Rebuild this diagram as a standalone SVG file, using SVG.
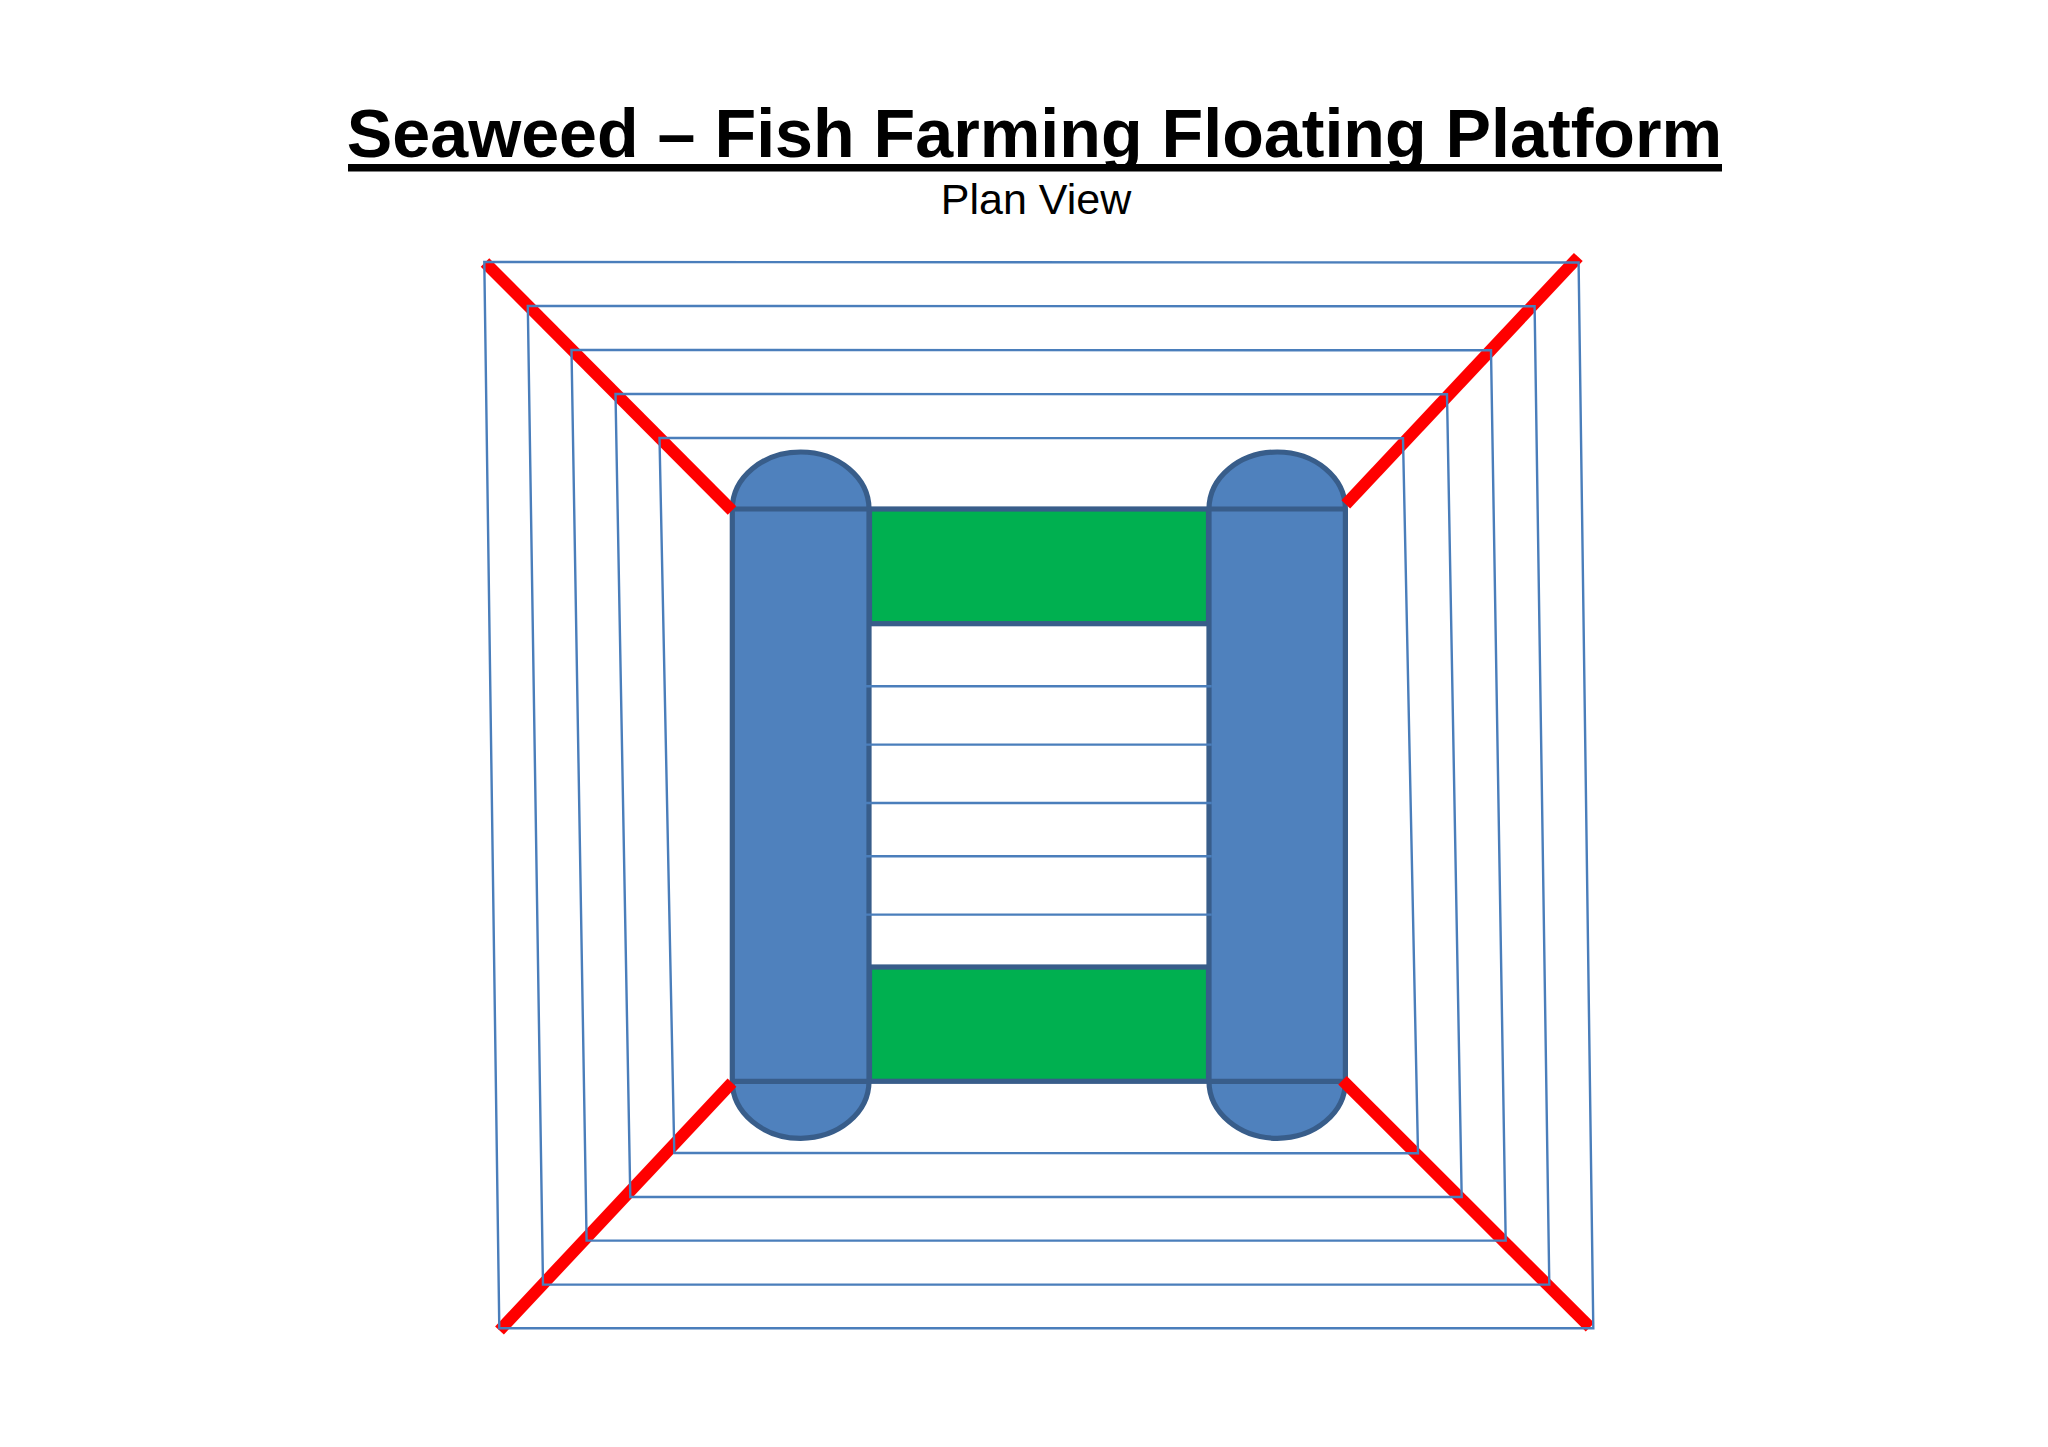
<svg xmlns="http://www.w3.org/2000/svg" width="2048" height="1447" viewBox="0 0 2048 1447">
<style>
.t{font-family:"Liberation Sans",Arial,sans-serif;fill:#000;text-anchor:middle}
.cap{fill:#4F81BD;stroke:#385D8A;stroke-width:5.2}
.grn{fill:#00B050;stroke:#385D8A;stroke-width:5.2}
.div{stroke:#385D8A;stroke-width:5.2;fill:none}
.net{fill:none;stroke:#4A7EBB;stroke-width:2.4}
.rung{stroke:#4A7EBB;stroke-width:2.4}
.red{stroke:#FF0000;stroke-width:12;fill:none}
</style>
<rect width="2048" height="1447" fill="#fff"/>
<g id="title">
<text class="t" x="1034.5" y="157" font-size="68.2" font-weight="700">Seaweed – Fish Farming Floating Platform</text>
<rect x="348" y="164" width="1374" height="7.5" fill="#000"/>
</g>
<text id="subtitle" class="t" x="1036" y="214" font-size="43">Plan View</text>
<g id="green-top"><rect class="grn" x="869.5" y="509" width="339" height="114.7"/></g>
<g id="green-bottom"><rect class="grn" x="869.5" y="967" width="339" height="114.3"/></g>
<g id="float-left">
<path class="cap" d="M732.3 509A68.35 57 0 0 1 869 509V1081.3A68.35 57 0 0 1 732.3 1081.3Z"/>
<path class="div" d="M732.3 509H869M732.3 1081.3H869"/>
</g>
<g id="float-right">
<path class="cap" d="M1209 509A68.2 57 0 0 1 1345.4 509V1081.3A68.2 57 0 0 1 1209 1081.3Z"/>
<path class="div" d="M1209 509H1345.4M1209 1081.3H1345.4"/>
</g>
<g id="connectors">
<g id="mooring-lines">
<path class="red" d="M485 262.5L732 510.5"/>
<path class="red" d="M1578.3 257L1345.8 504.3"/>
<path class="red" d="M499.5 1330.5L732 1082.7"/>
<path class="red" d="M1590 1327.3L1342.5 1080.2"/>
</g>
<g id="nets">
<path class="net" d="M484.3 262L1578.6 262.5L1593.3 1328.3L499.3 1328.3Z"/>
<path class="net" d="M527.8 306L1534.6 306.3L1549.3 1284.6L543 1284.6Z"/>
<path class="net" d="M571.5 350L1491 350.3L1505.7 1240.6L586.6 1240.6Z"/>
<path class="net" d="M615.5 394L1447 394.3L1461.7 1197L630.3 1197Z"/>
<path class="net" d="M659.5 438L1403 438.2L1418 1153.3L674.3 1153Z"/>
</g>
<g id="rungs">
<path class="rung" d="M866 686.3H1211.7"/>
<path class="rung" d="M866 744.6H1211.7"/>
<path class="rung" d="M866 803H1211.7"/>
<path class="rung" d="M866 856.3H1211.7"/>
<path class="rung" d="M866 914.6H1211.7"/>
</g>
</g>
</svg>
